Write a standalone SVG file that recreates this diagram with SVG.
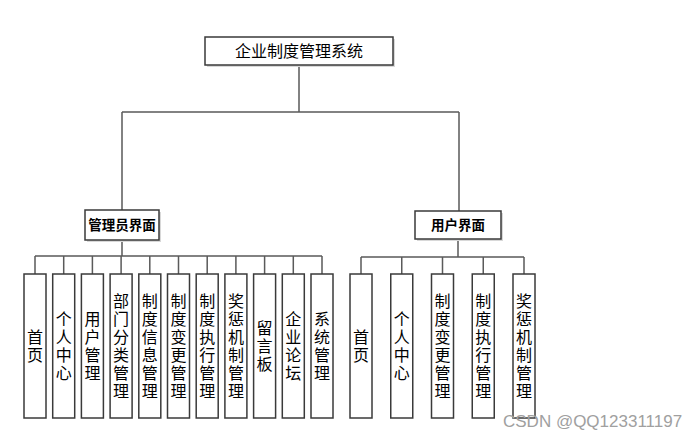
<svg xmlns="http://www.w3.org/2000/svg" width="693" height="438" viewBox="0 0 693 438">
<style>
.box{fill:#fff;stroke:#3a3a3a;stroke-width:1.5}
.sh{fill:#d8d8d8}
.ln{fill:none;stroke:#5a5a5a;stroke-width:1.5}
.t{font-family:"Noto Sans CJK SC","Noto Sans",sans-serif;font-size:16px;fill:#000;text-anchor:middle}
.v{font-family:"Noto Sans CJK SC","Noto Sans",sans-serif;font-size:16px;fill:#000;text-anchor:middle;writing-mode:vertical-rl;glyph-orientation-vertical:0;letter-spacing:2px}
.b{font-family:"Noto Sans CJK SC","Noto Sans",sans-serif;font-size:13.5px;font-weight:bold;fill:#000;text-anchor:middle}
.wm{font-family:"Liberation Sans",Arial,sans-serif;font-size:17px;fill:#a0a0a0}
</style>
<rect width="693" height="438" fill="#fff"/>
<g id="connectors">
<path class="ln" d="M299 65V112M122 112H459M122 112V210M459 112V211"/>
<path class="ln" d="M122 240V256M35 256H322M35 256V274M63.7 256V274M92.4 256V274M121.1 256V274M149.8 256V274M178.5 256V274M207.2 256V274M235.9 256V274M264.6 256V274M293.3 256V274M322 256V274"/>
<path class="ln" d="M458 239V257M361 257H524M361 257V274M401.75 257V274M442.5 257V274M483.25 257V274M524 257V274"/>
</g>
<g id="root"><rect class="sh" x="207" y="39" width="188" height="28"/><rect class="box" x="205" y="37" width="188" height="28"/><text class="t" x="299" y="57">企业制度管理系统</text></g>
<g id="admin"><rect class="sh" x="87" y="212" width="74" height="30"/><rect class="box" x="85" y="210" width="74" height="30"/><text class="b" x="122" y="230">管理员界面</text></g>
<g id="user"><rect class="sh" x="417" y="213" width="86" height="28"/><rect class="box" x="415" y="211" width="86" height="28"/><text class="b" x="458" y="230">用户界面</text></g>
<g id="a1"><rect class="box" x="24" y="274" width="22" height="144"/><text class="v" x="35" y="347">首页</text></g>
<g id="a2"><rect class="box" x="52.7" y="274" width="22" height="144"/><text class="v" x="63.7" y="347">个人中心</text></g>
<g id="a3"><rect class="box" x="81.4" y="274" width="22" height="144"/><text class="v" x="92.4" y="347">用户管理</text></g>
<g id="a4"><rect class="box" x="110.1" y="274" width="22" height="144"/><text class="v" x="121.1" y="347">部门分类管理</text></g>
<g id="a5"><rect class="box" x="138.8" y="274" width="22" height="144"/><text class="v" x="149.8" y="347">制度信息管理</text></g>
<g id="a6"><rect class="box" x="167.5" y="274" width="22" height="144"/><text class="v" x="178.5" y="347">制度变更管理</text></g>
<g id="a7"><rect class="box" x="196.2" y="274" width="22" height="144"/><text class="v" x="207.2" y="347">制度执行管理</text></g>
<g id="a8"><rect class="box" x="224.9" y="274" width="22" height="144"/><text class="v" x="235.9" y="347">奖惩机制管理</text></g>
<g id="a9"><rect class="box" x="253.6" y="274" width="22" height="144"/><text class="v" x="264.6" y="347">留言板</text></g>
<g id="a10"><rect class="box" x="282.3" y="274" width="22" height="144"/><text class="v" x="293.3" y="347">企业论坛</text></g>
<g id="a11"><rect class="box" x="311" y="274" width="22" height="144"/><text class="v" x="322" y="347">系统管理</text></g>
<g id="u1"><rect class="box" x="350" y="274" width="22" height="144"/><text class="v" x="361" y="347">首页</text></g>
<g id="u2"><rect class="box" x="390.75" y="274" width="22" height="144"/><text class="v" x="401.75" y="347">个人中心</text></g>
<g id="u3"><rect class="box" x="431.5" y="274" width="22" height="144"/><text class="v" x="442.5" y="347">制度变更管理</text></g>
<g id="u4"><rect class="box" x="472.25" y="274" width="22" height="144"/><text class="v" x="483.25" y="347">制度执行管理</text></g>
<g id="u5"><rect class="box" x="513" y="274" width="22" height="144"/><text class="v" x="524" y="347">奖惩机制管理</text></g>
<text class="wm" x="503" y="427">CSDN @QQ123311197</text>
</svg>
